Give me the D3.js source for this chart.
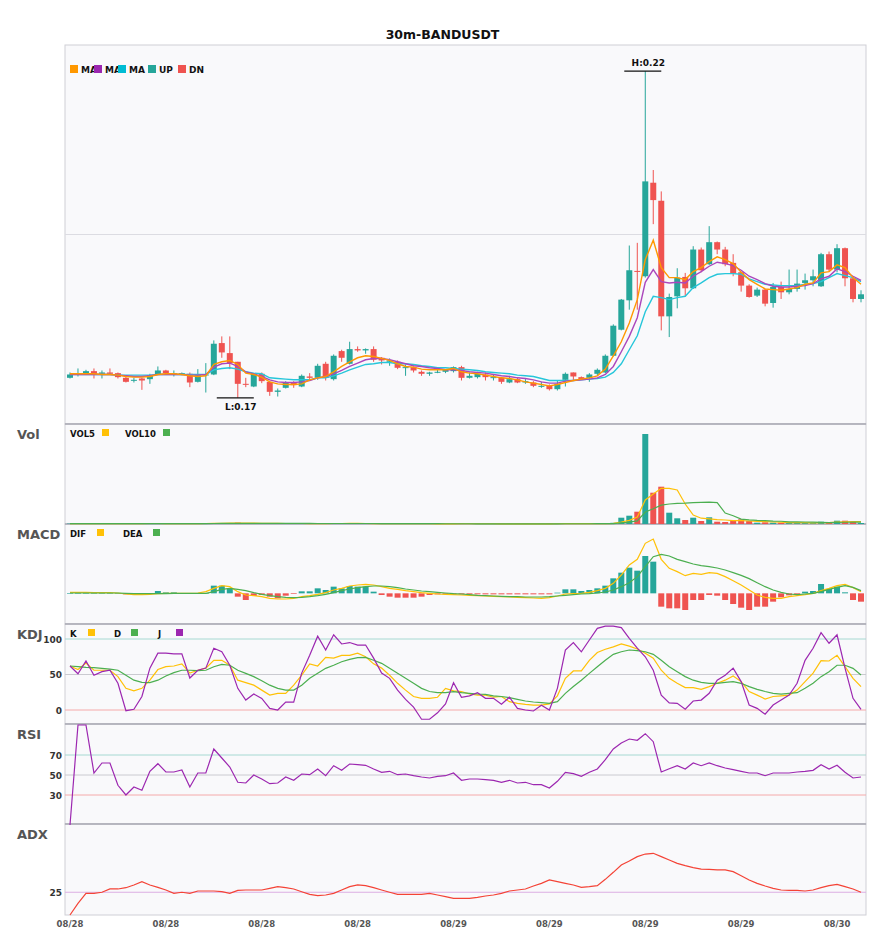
<!DOCTYPE html>
<html>
<head>
<meta charset="utf-8">
<script src="https://cdn.jsdelivr.net/npm/d3@7"></script>
<style>
body { margin: 0; background: #fff; }
text { font-family: "DejaVu Sans", sans-serif; }
</style>
</head>
<body>
<svg id="chart"></svg>
<script>
// 30m candles, 08/28 -> 08/30
var openP = [0.1755,0.1760,0.1761,0.1765,0.1761,0.1763,0.1762,0.1755,0.1751,0.1754,
0.1753,0.1760,0.1766,0.1760,0.1760,0.1761,0.1749,0.1759,0.1760,0.1807,
0.1792,0.1779,0.1746,0.1742,0.1761,0.1749,0.1734,0.1740,0.1748,0.1742,
0.1757,0.1755,0.1776,0.1753,0.1795,0.1776,0.1798,0.1796,0.1798,0.1785,
0.1779,0.1779,0.1770,0.1771,0.1764,0.1761,0.1763,0.1764,0.1765,0.1771,
0.1755,0.1756,0.1760,0.1755,0.1755,0.1748,0.1753,0.1748,0.1748,0.1742,
0.1743,0.1738,0.1752,0.1763,0.1756,0.1755,0.1761,0.1763,0.1788,0.1827,
0.1871,0.1915,0.1907,0.2047,0.2020,0.1847,0.1877,0.1906,0.1889,0.1947,
0.1925,0.1958,0.1947,0.1927,0.1913,0.1893,0.1878,0.1887,0.1867,0.1891,
0.1883,0.1888,0.1897,0.1901,0.1892,0.1940,0.1917,0.1949,0.1904,0.1873];
var highP = [0.1763,0.1769,0.1767,0.1769,0.1766,0.1769,0.1763,0.1757,0.1755,0.1755,
0.1761,0.1772,0.1767,0.1766,0.1763,0.1763,0.1768,0.1777,0.1811,0.1817,
0.1817,0.1779,0.1755,0.1762,0.1763,0.1750,0.1739,0.1750,0.1750,0.1760,
0.1762,0.1776,0.1779,0.1790,0.1797,0.1809,0.1802,0.1799,0.1802,0.1786,
0.1784,0.1781,0.1775,0.1772,0.1766,0.1764,0.1770,0.1768,0.1772,0.1773,
0.1763,0.1764,0.1763,0.1760,0.1756,0.1758,0.1755,0.1753,0.1750,0.1749,
0.1745,0.1751,0.1763,0.1763,0.1757,0.1762,0.1769,0.1790,0.1835,0.1873,
0.1953,0.1957,0.2214,0.2066,0.2034,0.1881,0.1919,0.1912,0.1952,0.1950,
0.1982,0.1959,0.1951,0.1940,0.1914,0.1895,0.1890,0.1888,0.1897,0.1899,
0.1917,0.1917,0.1911,0.1917,0.1942,0.1944,0.1955,0.1950,0.1905,0.1886];
var lowP = [0.1754,0.1757,0.1760,0.1754,0.1754,0.1760,0.1754,0.1748,0.1748,0.1737,
0.1746,0.1759,0.1760,0.1757,0.1759,0.1741,0.1748,0.1733,0.1759,0.1785,
0.1768,0.1725,0.1741,0.1741,0.1747,0.1728,0.1727,0.1739,0.1740,0.1741,
0.1752,0.1752,0.1751,0.1751,0.1779,0.1775,0.1794,0.1791,0.1779,0.1775,
0.1773,0.1768,0.1758,0.1763,0.1758,0.1758,0.1762,0.1762,0.1763,0.1751,
0.1754,0.1754,0.1751,0.1751,0.1746,0.1747,0.1747,0.1746,0.1741,0.1740,
0.1736,0.1736,0.1742,0.1752,0.1752,0.1749,0.1758,0.1762,0.1787,0.1826,
0.1857,0.1857,0.1905,0.1985,0.1826,0.1816,0.1859,0.1877,0.1888,0.1913,
0.1924,0.1940,0.1922,0.1907,0.1884,0.1875,0.1876,0.1862,0.1860,0.1873,
0.1880,0.1884,0.1887,0.1892,0.1891,0.1914,0.1913,0.1892,0.1868,0.1868];
var closeP = [0.1760,0.1761,0.1765,0.1761,0.1763,0.1761,0.1756,0.1749,0.1752,0.1751,
0.1759,0.1766,0.1762,0.1762,0.1762,0.1748,0.1759,0.1760,0.1806,0.1793,
0.1777,0.1746,0.1745,0.1761,0.1750,0.1734,0.1736,0.1748,0.1744,0.1758,
0.1755,0.1773,0.1755,0.1788,0.1785,0.1798,0.1796,0.1798,0.1782,0.1781,
0.1781,0.1770,0.1771,0.1766,0.1761,0.1763,0.1764,0.1767,0.1771,0.1755,
0.1758,0.1761,0.1756,0.1756,0.1749,0.1753,0.1748,0.1750,0.1743,0.1743,
0.1738,0.1746,0.1761,0.1757,0.1753,0.1760,0.1767,0.1788,0.1833,0.1872,
0.1916,0.1914,0.2049,0.2021,0.1847,0.1876,0.1905,0.1889,0.1947,0.1916,
0.1958,0.1947,0.1925,0.1911,0.1893,0.1876,0.1887,0.1866,0.1891,0.1883,
0.1888,0.1896,0.1901,0.1907,0.1940,0.1917,0.1949,0.1904,0.1873,0.1880];

var ma5 = [0.1761,0.1761,0.1761,0.1761,0.1760,0.1760,0.1759,0.1757,0.1756,0.1756,
0.1757,0.1760,0.1761,0.1761,0.1760,0.1758,0.1757,0.1758,0.1775,0.1779,
0.1781,0.1775,0.1762,0.1760,0.1756,0.1749,0.1746,0.1745,0.1745,0.1746,
0.1752,0.1755,0.1757,0.1764,0.1772,0.1779,0.1785,0.1788,0.1787,0.1784,
0.1781,0.1776,0.1772,0.1771,0.1768,0.1767,0.1767,0.1767,0.1769,0.1764,
0.1762,0.1761,0.1759,0.1757,0.1755,0.1754,0.1752,0.1749,0.1747,0.1745,
0.1743,0.1745,0.1748,0.1751,0.1753,0.1755,0.1758,0.1768,0.1788,0.1809,
0.1837,0.1872,0.1932,0.1961,0.1920,0.1905,0.1905,0.1902,0.1914,0.1920,
0.1929,0.1936,0.1932,0.1926,0.1913,0.1902,0.1895,0.1888,0.1887,0.1886,
0.1888,0.1890,0.1895,0.1897,0.1912,0.1914,0.1924,0.1920,0.1905,0.1895];
var ma10 = [0.1760,0.1760,0.1760,0.1760,0.1760,0.1760,0.1759,0.1758,0.1757,0.1757,
0.1758,0.1760,0.1760,0.1760,0.1760,0.1759,0.1759,0.1760,0.1771,0.1776,
0.1777,0.1772,0.1764,0.1761,0.1757,0.1752,0.1749,0.1748,0.1748,0.1749,
0.1751,0.1755,0.1757,0.1761,0.1766,0.1772,0.1777,0.1782,0.1784,0.1784,
0.1782,0.1779,0.1776,0.1773,0.1772,0.1770,0.1769,0.1767,0.1767,0.1766,
0.1764,0.1763,0.1762,0.1760,0.1758,0.1757,0.1755,0.1754,0.1752,0.1749,
0.1747,0.1747,0.1750,0.1751,0.1752,0.1753,0.1755,0.1760,0.1772,0.1794,
0.1817,0.1845,0.1898,0.1917,0.1899,0.1897,0.1898,0.1897,0.1907,0.1914,
0.1922,0.1928,0.1926,0.1923,0.1916,0.1907,0.1902,0.1896,0.1892,0.1891,
0.1891,0.1892,0.1893,0.1896,0.1903,0.1907,0.1918,0.1914,0.1907,0.1901];
var ma20 = [0.1760,0.1760,0.1760,0.1760,0.1760,0.1760,0.1759,0.1759,0.1759,0.1759,
0.1759,0.1760,0.1760,0.1760,0.1760,0.1760,0.1760,0.1760,0.1767,0.1769,
0.1770,0.1768,0.1764,0.1762,0.1761,0.1755,0.1754,0.1753,0.1752,0.1752,
0.1752,0.1755,0.1755,0.1758,0.1762,0.1767,0.1771,0.1775,0.1776,0.1778,
0.1778,0.1776,0.1776,0.1775,0.1773,0.1772,0.1770,0.1770,0.1769,0.1768,
0.1767,0.1766,0.1764,0.1763,0.1762,0.1761,0.1759,0.1758,0.1757,0.1754,
0.1751,0.1751,0.1751,0.1751,0.1752,0.1753,0.1754,0.1756,0.1763,0.1776,
0.1797,0.1818,0.1854,0.1877,0.1875,0.1872,0.1875,0.1877,0.1890,0.1897,
0.1905,0.1910,0.1911,0.1911,0.1910,0.1903,0.1899,0.1895,0.1894,0.1893,
0.1893,0.1893,0.1895,0.1896,0.1899,0.1905,0.1911,0.1908,0.1905,0.1899];

var volume = [20,15,18,22,12,14,25,28,16,30,
24,26,14,12,10,30,28,35,45,38,
40,70,30,28,20,32,26,22,18,24,
14,22,30,34,26,32,15,12,24,18,
12,16,14,10,12,8,9,10,12,20,
10,9,10,8,12,10,9,8,12,10,
14,16,22,15,12,14,20,35,60,315,
415,615,4500,1565,1865,565,285,200,315,150,
335,115,100,150,235,150,65,85,65,65,
75,65,50,50,115,65,165,165,115,50];
var vol5 = [20,18,18,19,17,16,18,20,19,22,
25,25,23,22,20,20,22,24,30,35,
39,46,45,42,38,36,27,26,24,24,
23,22,22,25,25,29,27,24,22,20,
16,16,15,14,13,12,11,11,10,12,
12,12,12,12,11,10,10,10,10,10,
11,12,14,15,16,16,17,22,30,100,
180,350,1200,1500,1785,1785,1700,1000,450,290,
255,220,200,170,170,150,130,115,100,90,
70,70,65,60,70,70,90,110,125,115];
var vol10 = [20,19,18,18,18,18,18,19,19,20,
21,22,22,22,22,23,23,23,25,27,
30,34,35,35,35,35,35,34,33,31,
28,26,25,25,25,25,26,25,24,23,
21,20,19,18,17,15,14,13,12,12,
12,11,11,11,11,11,11,11,11,11,
11,11,12,12,13,13,14,16,22,55,
95,155,600,760,945,1000,1030,1045,1070,1080,
1090,1065,550,410,245,205,180,170,145,137,
110,105,100,90,80,70,80,88,93,91];

var dif = [0.00003,0.00003,0.00003,0.00002,0.00002,0.00002,0.00001,-0.00002,-0.00004,-0.00004,
-0.00003,-0.00001,0,0,0,0,0.00001,0.00005,0.00015,0.00023,
0.0002,0.00005,-0.00005,-0.00007,-0.0001,-0.00015,-0.00017,-0.00017,-0.00015,-0.0001,
-0.00007,-0.00003,0.00002,0.0001,0.00015,0.00022,0.00025,0.00027,0.00025,0.0002,
0.00015,0.00012,0.00008,0.00005,0.00002,0,-0.00002,-0.00003,-0.00004,-0.00005,
-0.00006,-0.00007,-0.00008,-0.00009,-0.0001,-0.00011,-0.00012,-0.00013,-0.00014,-0.00015,
-0.00013,-0.00008,-0.00002,-0.00001,0,0.00003,0.00008,0.00015,0.0003,0.00055,
0.00085,0.00102,0.0015,0.00163,0.00102,0.00075,0.00065,0.00053,0.0006,0.00057,
0.00062,0.0006,0.0005,0.00038,0.00025,0.0001,-0.00005,-0.00012,-0.00015,-0.00015,
-0.0001,-0.00007,-0.00004,0,0.00008,0.00015,0.00023,0.00027,0.00017,0.00005];
var dea = [0.00001,0.00001,0.00001,0.00001,0.00001,0.00001,0.00001,0,-0.00001,-0.00001,
-0.00001,-0.00001,-0.00001,0,0,0,0,0,0.00005,0.00012,
0.00015,0.00012,0.00008,0.00002,-0.00003,-0.00007,-0.0001,-0.00012,-0.00013,-0.00012,
-0.0001,-0.00007,-0.00003,0.00002,0.00008,0.00013,0.00017,0.0002,0.00022,0.00022,
0.0002,0.00017,0.00013,0.0001,0.00007,0.00005,0.00003,0.00001,-0.00001,-0.00002,
-0.00004,-0.00006,-0.00007,-0.00008,-0.00009,-0.0001,-0.0001,-0.00011,-0.00011,-0.00011,
-0.0001,-0.00008,-0.00006,-0.00004,-0.00002,-0.00001,0.00001,0.00004,0.0001,0.0002,
0.00032,0.0005,0.0008,0.0011,0.00117,0.00112,0.00102,0.00095,0.00088,0.00083,
0.0008,0.00076,0.0007,0.00062,0.00054,0.00044,0.00032,0.0002,0.0001,0.00003,
-0.00002,-0.00004,-0.00002,0,0.00005,0.00012,0.00018,0.00023,0.00018,0.00008];
var macdHist = [0.00001,0.00001,0.00001,0.00001,0.00001,0.00001,0,-0.00003,-0.00003,-0.00002,
-0.00001,0.00007,0.00003,0.00003,0.00001,0.00001,0.00001,0.00001,0.00023,0.00023,
0.00015,-0.0001,-0.0002,-0.00008,-0.00005,-0.0001,-0.00015,-0.00007,-0.00002,0.00006,
0.00006,0.00015,0.0001,0.0002,0.00015,0.00022,0.0002,0.0002,0.00005,-0.00005,
-0.0001,-0.00013,-0.00013,-0.00013,-0.0001,-0.00005,-0.00003,-0.00003,-0.00003,-0.00003,
-0.00003,-0.00003,-0.00003,-0.00003,-0.00003,-0.00003,-0.00003,-0.00003,-0.00003,-0.00003,
-0.00003,0.00002,0.00012,0.00012,0.00007,0.0001,0.00015,0.00023,0.00045,0.00062,
0.00077,0.00068,0.00112,0.00095,-0.0004,-0.00045,-0.00045,-0.0005,-0.0002,-0.0002,
-0.00005,-0.00007,-0.0002,-0.00032,-0.00043,-0.0005,-0.0004,-0.0004,-0.00025,-0.00012,
-0.00006,-0.00002,0.00005,0.00007,0.00028,0.00013,0.0002,0.00003,-0.0002,-0.00025];

var kVal = [62,57,66,56,56,56,47,30.5,27,30.5,
42,57,61,62,65,52,56,59,70,70,
63,42,38.5,35,28,21,23.5,23.5,35,49,
65,62,74,73,77,77,80,75,65,59,
49,37.6,28,19,16.4,16.4,18,30.5,27,26,
22.5,21,21,18,19,11.7,9.4,8,7,7,
8.5,20,44.6,55,55,70,81,85.5,89,93,
90,86,80,73,56,44.6,37.6,31.5,31.5,29,
33,37.6,42,48,40,26,21,15.5,19,20,
21,28,40,52,69.5,69,77,61,44.6,33];
var dVal = [62,61,60,59.6,58.7,57.7,56,49,42,39,
38.5,42,48,52.6,56,56,55.4,56,61,64.3,
63,56,51.6,47,41.3,35,30.5,28,28,35,
44.6,51.6,58.7,63,68,71.4,73.7,74,70,65.7,
58.7,51.6,44.6,37.6,30.5,26,24.4,24.4,26,24.4,
23.5,22.5,22,20,19,17.4,15,12.7,11.3,10.3,
9.4,11.7,23.5,33,42,51.6,61,70,78.4,82,
84.5,83.6,82,78.4,70,61,54,47,42,39,
37.6,37.6,39,40,37.6,33,29,26,23.5,22.5,
23.5,24.4,30.5,37.6,47,54,63,63,58.7,49.3];
var jVal = [62,51,69,49,54,56,37.6,-1,1,19,
59,80,80,79,79,45,56,59,87,82,
63,30.5,14,22.5,16.4,2.3,0,11,11,52,
77,104,84.5,106,93,95,91.5,91.5,73,52,
44.6,28,15,4,-13,-13,-4,8.5,38.5,18,
20,24.4,16.4,16.4,8,18,2.3,0,-1.4,6.6,
0,30.5,84.5,95,82,98.6,115,118,118,116,
101,87,75,56,21,10,9.4,1,12.7,14,
23.5,42,49,59,40,7,2.3,-6,7,14,
21,37.6,70,87,109,94,106,59,16.4,1];

var rsi = [0,100,100,52,62,62,39.7,30,38,34.7,
53.7,61.3,53,53,55,38,52,52,76,67,
58,42.7,42,50,46,41.3,42,48,44.7,51,
50.3,56,49.3,59.3,54.7,61,60.3,59.7,56,52.7,
53.7,50.3,51,49.3,48,47,48.7,49.3,52,44.7,
46,46,45.3,44.7,42.7,44.7,42,42.7,40.3,40.3,
37,43.7,52.7,51.3,48.7,52.7,56,65.3,76,82,
86,84.7,91.3,83.3,53,56.3,59.3,56,62,59.3,
62,59.3,57,55.3,53.7,52,52,49.3,52,52,
52,53,53.7,54.7,60.3,56,59.7,52.7,47,48];

var adx = [0,12.8,23.8,23.8,25,28.6,28.6,30,33,36.6,
33,30.4,27.5,23.8,25,23.8,26.4,26.4,26.4,25.6,
23.8,27.1,27.5,27.5,27.5,29.3,31.1,30,28.6,25.6,
22.7,21.2,22,23.8,27.5,31.1,33,32.2,30,27.5,
25,22.7,22.7,22.7,22.7,23.8,22,20.1,18.3,18.3,
18.3,19.4,20.9,22,23.8,26.4,27.5,28.6,31.9,34.8,
38.5,36.6,34.8,33,30.4,31.1,32.2,39.2,46.9,55,
59.3,64.1,67,67.8,64.1,60.4,56.8,54.2,52,50.5,
50.2,49.5,49.5,47.6,43.2,38.5,34.8,31.9,29.3,27.5,
27.1,27.1,26.4,27.5,30,32.2,33.7,31.1,28.6,25];

var tickIdx = [0,12,24,36,48,60,72,84,96];
var tickLabels = ['08/28','08/28','08/28','08/28','08/29','08/29','08/29','08/29','08/30'];

var width = 885, height = 950;
var left = 65, right = 866;
var UP = '#26a69a', DN = '#ef5350';
var n = closeP.length;

var svg = d3.select('#chart').attr('width', width).attr('height', height);

var x = d3.scaleBand().domain(d3.range(n)).range([left, right]).padding(0.25);
var cx = i => x(i) + x.bandwidth() / 2;
var isUp = i => closeP[i] >= openP[i];

// panel frames
var panels = [
	{name: '', top: 45, bottom: 424},
	{name: 'Vol', top: 424, bottom: 524},
	{name: 'MACD', top: 524, bottom: 624},
	{name: 'KDJ', top: 624, bottom: 724},
	{name: 'RSI', top: 724, bottom: 824},
	{name: 'ADX', top: 824, bottom: 915}
];

svg.append('g').selectAll('rect')
	.data(panels)
	.enter()
	.append('rect')
		.attr('x', left)
		.attr('y', d => d.top)
		.attr('width', right - left)
		.attr('height', d => d.bottom - d.top)
		.attr('fill', '#f9f9fb')
		.attr('stroke', '#cfcfd6')
		.attr('stroke-width', 1);

svg.append('g').selectAll('line')
	.data(panels.slice(1))
	.enter()
	.append('line')
		.attr('x1', left).attr('x2', right)
		.attr('y1', d => d.top).attr('y2', d => d.top)
		.attr('stroke', '#a9a9b3')
		.attr('stroke-width', 1.5);

svg.append('g').selectAll('text')
	.data(panels.slice(1))
	.enter()
	.append('text')
		.attr('x', 17)
		.attr('y', d => d.top + 15)
		.style('font-size', '13px')
		.style('font-weight', 'bold')
		.attr('fill', '#555')
		.text(d => d.name);

svg.append('text')
	.attr('x', width / 2)
	.attr('y', 39)
	.style('text-anchor', 'middle')
	.style('font-size', '12.5px')
	.style('font-weight', 'bold')
	.attr('fill', '#111')
	.text('30m-BANDUSDT');

// ---------- main price panel
var lo = d3.min(lowP), hi = d3.max(highP), pad = (hi - lo) * 0.08;
var yP = d3.scaleLinear().domain([lo - pad, hi + pad]).range([424, 45]);

svg.append('line')
	.attr('x1', left).attr('x2', right)
	.attr('y1', 234.5).attr('y2', 234.5)
	.attr('stroke', '#dcdce2');

var candles = svg.append('g').selectAll('g')
	.data(d3.range(n))
	.enter()
	.append('g')
		.attr('fill', i => isUp(i) ? UP : DN)
		.attr('stroke', i => isUp(i) ? UP : DN);

candles.append('line')
	.attr('x1', i => cx(i)).attr('x2', i => cx(i))
	.attr('y1', i => yP(highP[i])).attr('y2', i => yP(lowP[i]))
	.attr('stroke-width', 1);

candles.append('rect')
	.attr('x', i => x(i))
	.attr('width', x.bandwidth())
	.attr('y', i => yP(Math.max(openP[i], closeP[i])))
	.attr('height', i => Math.max(1, Math.abs(yP(openP[i]) - yP(closeP[i]))))
	.attr('stroke', 'none');

var maLine = d3.line().x((d, i) => cx(i)).y(d => yP(d));
[[ma20, '#26c6da'], [ma10, '#ab47bc'], [ma5, '#ff9800']].forEach(function (s) {
	svg.append('path')
		.attr('d', maLine(s[0]))
		.attr('fill', 'none')
		.attr('stroke', s[1])
		.attr('stroke-width', 1.4);
});

// high / low markers
var iHi = d3.maxIndex(highP), iLo = d3.minIndex(lowP);
[[iHi, highP[iHi], 'H:', -5], [iLo, lowP[iLo], 'L:', 12]].forEach(function (m) {
	var yy = yP(m[1]);
	svg.append('line')
		.attr('x1', cx(m[0]) - 21).attr('x2', cx(m[0]) + 16)
		.attr('y1', yy).attr('y2', yy)
		.attr('stroke', '#111').attr('stroke-width', 1.2);
	svg.append('text')
		.attr('x', cx(m[0]) + 3)
		.attr('y', yy + m[3])
		.style('text-anchor', 'middle')
		.style('font-size', '9px')
		.style('font-weight', 'bold')
		.attr('fill', '#111')
		.text(m[2] + m[1].toFixed(2));
});

// main legend
var legendLabels = ['MA', 'MA', 'MA', 'UP', 'DN'];
var legendColors = ['#ff9800', '#9c27b0', '#00bcd4', UP, DN];
var legendX = [70, 94, 118, 148, 178];
legendLabels.forEach(function (lab, k) {
	svg.append('text')
		.attr('x', legendX[k] + 11).attr('y', 72.5)
		.style('font-size', '9px').style('font-weight', 'bold')
		.attr('fill', '#111').text(lab);
});
legendLabels.forEach(function (lab, k) {
	svg.append('rect')
		.attr('x', legendX[k]).attr('y', 65)
		.attr('width', 8).attr('height', 8)
		.attr('fill', legendColors[k]);
});

// sub legends: text x, square x
function subLegend(top, labels, colors, textX, boxX) {
	labels.forEach(function (lab, k) {
		svg.append('text')
			.attr('x', textX[k]).attr('y', top + 12.5)
			.style('font-size', '8.5px').style('font-weight', 'bold')
			.attr('fill', '#111').text(lab);
		svg.append('rect')
			.attr('x', boxX[k]).attr('y', top + 5)
			.attr('width', 7).attr('height', 7)
			.attr('fill', colors[k]);
	});
}

function drawLine(data, yScale, color, w) {
	svg.append('path')
		.attr('d', d3.line().x((d, i) => cx(i)).y(d => yScale(d))(data))
		.attr('fill', 'none')
		.attr('stroke', color)
		.attr('stroke-width', w || 1.2);
}

function refLine(yy, color) {
	svg.append('line')
		.attr('x1', left).attr('x2', right)
		.attr('y1', yy).attr('y2', yy)
		.attr('stroke', color).attr('stroke-width', 1);
}

function tickText(yy, label) {
	svg.append('text')
		.attr('x', 62).attr('y', yy + 3.5)
		.style('text-anchor', 'end')
		.style('font-size', '9px').style('font-weight', 'bold')
		.attr('fill', '#333').text(label);
}

// ---------- volume
var yV = d3.scaleLinear().domain([0, d3.max(volume) / 0.9]).range([524, 424]);
svg.append('g').selectAll('rect')
	.data(d3.range(n))
	.enter()
	.append('rect')
		.attr('x', i => x(i))
		.attr('width', x.bandwidth())
		.attr('y', i => yV(volume[i]))
		.attr('height', i => yV(0) - yV(volume[i]))
		.attr('fill', i => isUp(i) ? UP : DN);
drawLine(vol5, yV, '#ffc107');
drawLine(vol10, yV, '#4caf50');
subLegend(424, ['VOL5', 'VOL10'], ['#ffc107', '#4caf50'], [70, 125], [102, 163]);

// ---------- MACD
var mExt = d3.extent(dif.concat(dea, macdHist));
var yM = d3.scaleLinear().domain(mExt).range([610, 539]);
svg.append('g').selectAll('rect')
	.data(d3.range(n))
	.enter()
	.append('rect')
		.attr('x', i => x(i))
		.attr('width', x.bandwidth())
		.attr('y', i => Math.min(yM(0), yM(macdHist[i])))
		.attr('height', i => Math.max(0.6, Math.abs(yM(macdHist[i]) - yM(0))))
		.attr('fill', i => macdHist[i] >= 0 ? UP : DN);
drawLine(dif, yM, '#ffc107');
drawLine(dea, yM, '#4caf50');
subLegend(524, ['DIF', 'DEA'], ['#ffc107', '#4caf50'], [70, 123], [97, 153]);

// ---------- KDJ
var yK = d3.scaleLinear().domain([0, 100]).range([710, 639]);
refLine(yK(100), '#a6d9d2');
refLine(yK(50), '#cacad0');
refLine(yK(0), '#f5aaaa');
[100, 50, 0].forEach(v => tickText(yK(v), v));
drawLine(kVal, yK, '#ffc107');
drawLine(dVal, yK, '#4caf50');
drawLine(jVal, yK, '#9c27b0');
subLegend(624, ['K', 'D', 'J'], ['#ffc107', '#4caf50', '#9c27b0'], [70, 114, 158], [88, 131, 176]);

// ---------- RSI
var yR = d3.scaleLinear().domain([0, 100]).range([825, 725]);
refLine(yR(70), '#a6d9d2');
refLine(yR(50), '#cacad0');
refLine(yR(30), '#f5aaaa');
[70, 50, 30].forEach(v => tickText(yR(v), v));
drawLine(rsi, yR, '#9c27b0');

// ---------- ADX
var yA = d3.scaleLinear().domain([0, 100]).range([915, 824]);
refLine(yA(25), '#dcaee3');
tickText(yA(25), 25);
drawLine(adx, yA, '#f44336');

// x labels
svg.append('g').selectAll('text')
	.data(tickIdx)
	.enter()
	.append('text')
		.attr('x', i => cx(i))
		.attr('y', 927)
		.style('text-anchor', 'middle')
		.style('font-size', '8.5px')
		.style('font-weight', 'bold')
		.attr('fill', '#555')
		.text((d, k) => tickLabels[k]);
</script>
</body>
</html>
